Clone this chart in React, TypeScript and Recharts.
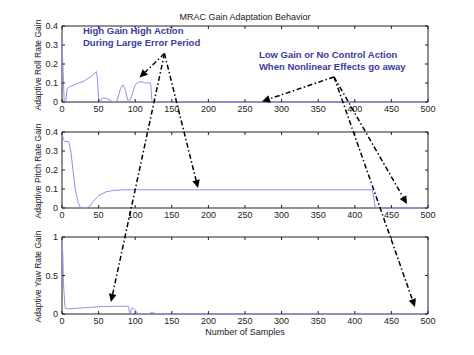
import { LineChart, Line, XAxis, YAxis, ReferenceArea } from "recharts";

// sample index / gain value pairs
const rollSamples = [0, 2, 3, 5, 7, 10, 20, 30, 40, 47, 48, 50, 52, 55, 60, 65, 70, 75, 80, 83, 86, 90, 92, 95, 100, 104, 110, 115, 121, 123, 500];
const rollGain = [0.33, 0.1, 0, 0, 0.07, 0.08, 0.095, 0.11, 0.135, 0.16, 0.14, 0.02, 0, 0.02, 0.02, 0.01, 0, 0.005, 0.07, 0.09, 0.07, 0.01, 0, 0.03, 0.09, 0.105, 0.105, 0.1, 0.1, 0, 0];

const pitchSamples = [0, 2, 4, 9, 12, 15, 18, 22, 25, 28, 33, 38, 43, 50, 60, 70, 80, 100, 424, 426, 428, 500];
const pitchGain = [0.4, 0.36, 0.35, 0.35, 0.3, 0.2, 0.1, 0.03, 0.005, 0, 0, 0.01, 0.035, 0.065, 0.085, 0.092, 0.095, 0.096, 0.096, 0.05, 0, 0];

const yawSamples = [0, 1, 2, 4, 5, 10, 30, 50, 70, 91, 92, 93, 95, 97, 100, 103, 106, 118, 122, 125, 129, 500];
const yawGain = [1, 0.8, 0.4, 0.1, 0.07, 0.068, 0.08, 0.095, 0.1, 0.1, 0.02, 0.01, 0.07, 0.08, 0.05, 0.01, 0, 0, 0.02, 0.015, 0, 0];

const xTicks = [0, 50, 100, 150, 200, 250, 300, 350, 400, 450, 500];
const smallTicks = [0, 0.1, 0.2, 0.3, 0.4];
const yawTicks = [0, 0.5, 1];

const panelLabels = ["Adaptive Roll Rate Gain", "Adaptive Pitch Rate Gain", "Adaptive Yaw Rate Gain"];

// annotation arrows: apex and tip in data coords of a panel
const arrows = [
  { from: [140, 0.255, 0], to: [105.9, 0.129, 0] },
  { from: [140, 0.255, 0], to: [185.8, 0.105, 1] },
  { from: [140, 0.255, 0], to: [66.9, 0.156, 2] },
  { from: [371.6, 0.132, 0], to: [273.2, 0.003, 0] },
  { from: [371.6, 0.132, 0], to: [471.3, 0.021, 1] },
  { from: [371.6, 0.132, 0], to: [482.2, 0.091, 2] },
];
const notes = [
  { text: "High Gain High Action", x: 28.7, y: 0.358 },
  { text: "During Large Error Period", x: 28.7, y: 0.297 },
  { text: "Low Gain or No Control Action", x: 269, y: 0.232 },
  { text: "When Nonlinear Effects go away", x: 269, y: 0.169 },
];

const W = 474;
const H = 355;
const LEFT = 62;
const PW = 366;
const XMAX = 500;
const FONT = "'Liberation Sans', Arial, sans-serif";
const LINE = "#9090f0";
const NOTE = "#3b3b9e";

const panels = [
  { top: 26, h: 76, yMax: 0.4, ticks: smallTicks, xs: rollSamples, ys: rollGain },
  { top: 132, h: 76, yMax: 0.4, ticks: smallTicks, xs: pitchSamples, ys: pitchGain },
  { top: 237, h: 77, yMax: 1, ticks: yawTicks, xs: yawSamples, ys: yawGain },
];

const px = (x: number) => LEFT + (x / XMAX) * PW;
const py = (y: number, p: number) => panels[p].top + (1 - y / panels[p].yMax) * panels[p].h;

const makeXTick = (plotH: number) => (props: any) => {
  const { x, y, payload } = props;
  return (
    <g>
      <line x1={x} y1={y} x2={x} y2={y - 3} stroke="#222" />
      <line x1={x} y1={y - plotH} x2={x} y2={y - plotH + 3} stroke="#222" />
      <text x={x} y={y + 10} textAnchor="middle" fontSize={9} fill="#222" fontFamily={FONT}>
        {payload.value}
      </text>
    </g>
  );
};

const makeYTick = (plotW: number) => (props: any) => {
  const { x, y, payload } = props;
  return (
    <g>
      <line x1={x} y1={y} x2={x + 3} y2={y} stroke="#222" />
      <line x1={x + plotW} y1={y} x2={x + plotW - 3} y2={y} stroke="#222" />
      <text x={x - 4} y={y + 3} textAnchor="end" fontSize={9} fill="#222" fontFamily={FONT}>
        {payload.value}
      </text>
    </g>
  );
};

function Panel({ idx }: { idx: number }) {
  const p = panels[idx];
  const data = p.xs.map((x, i) => ({ x, y: p.ys[i] }));
  const mt = 6;
  return (
    <div style={{ position: "absolute", left: 0, top: p.top - mt }}>
      <LineChart width={W} height={mt + p.h + 20} data={data} margin={{ top: mt, right: W - LEFT - PW, bottom: 0, left: 0 }}>
        <XAxis
          dataKey="x"
          type="number"
          domain={[0, XMAX]}
          ticks={xTicks}
          height={20}
          axisLine={false}
          tickLine={false}
          tickSize={0}
          tickMargin={0}
          interval={0}
          tick={makeXTick(p.h)}
        />
        <YAxis
          type="number"
          domain={[0, p.yMax]}
          ticks={p.ticks}
          width={LEFT}
          axisLine={false}
          tickLine={false}
          tickSize={0}
          tickMargin={0}
          interval={0}
          tick={makeYTick(PW)}
        />
        <ReferenceArea x1={0} x2={XMAX} y1={0} y2={p.yMax} fill="none" stroke="#222" strokeWidth={1} ifOverflow="visible" />
        <Line type="linear" dataKey="y" stroke={LINE} strokeWidth={1} dot={false} isAnimationActive={false} />
      </LineChart>
    </div>
  );
}

function Arrow({ from, to }: { from: number[]; to: number[] }) {
  const x1 = px(from[0]);
  const y1 = py(from[1], from[2]);
  const x2 = px(to[0]);
  const y2 = py(to[1], to[2]);
  const dx = x2 - x1;
  const dy = y2 - y1;
  const len = Math.hypot(dx, dy);
  const ux = dx / len;
  const uy = dy / len;
  const hl = 8;
  const hw = 3.8;
  const bx = x2 - ux * hl;
  const by = y2 - uy * hl;
  const pts = `${x2},${y2} ${bx - uy * hw},${by + ux * hw} ${bx + uy * hw},${by - ux * hw}`;
  return (
    <g>
      <line x1={x1} y1={y1} x2={bx} y2={by} stroke="#000" strokeWidth={1.5} strokeDasharray="5 2.5 1.5 2.5" />
      <polygon points={pts} fill="#000" />
    </g>
  );
}

export default function App() {
  return (
    <div style={{ position: "absolute", left: 0, top: 0, width: W, height: H, background: "#fff", fontFamily: FONT }}>
      {panels.map((_, i) => (
        <Panel key={i} idx={i} />
      ))}
      <svg width={W} height={H} style={{ position: "absolute", left: 0, top: 0, pointerEvents: "none" }}>
        <text x={LEFT + PW / 2} y={20} textAnchor="middle" fontSize={9} fill="#222" fontFamily={FONT}>
          MRAC Gain Adaptation Behavior
        </text>
        <text x={LEFT + PW / 2} y={335} textAnchor="middle" fontSize={9} fill="#222" fontFamily={FONT}>
          Number of Samples
        </text>
        {panels.map((p, i) => (
          <text
            key={i}
            x={0}
            y={0}
            transform={`translate(41, ${p.top + p.h / 2 + 1}) rotate(-90)`}
            textAnchor="middle"
            fontSize={8.5}
            fill="#222"
            fontFamily={FONT}
          >
            {panelLabels[i]}
          </text>
        ))}
        {notes.map((n, i) => (
          <text key={i} x={px(n.x)} y={py(n.y, 0)} fontSize={9.5} fontWeight="bold" fill={NOTE} fontFamily={FONT}>
            {n.text}
          </text>
        ))}
        {arrows.map((a, i) => (
          <Arrow key={i} from={a.from} to={a.to} />
        ))}
      </svg>
    </div>
  );
}
